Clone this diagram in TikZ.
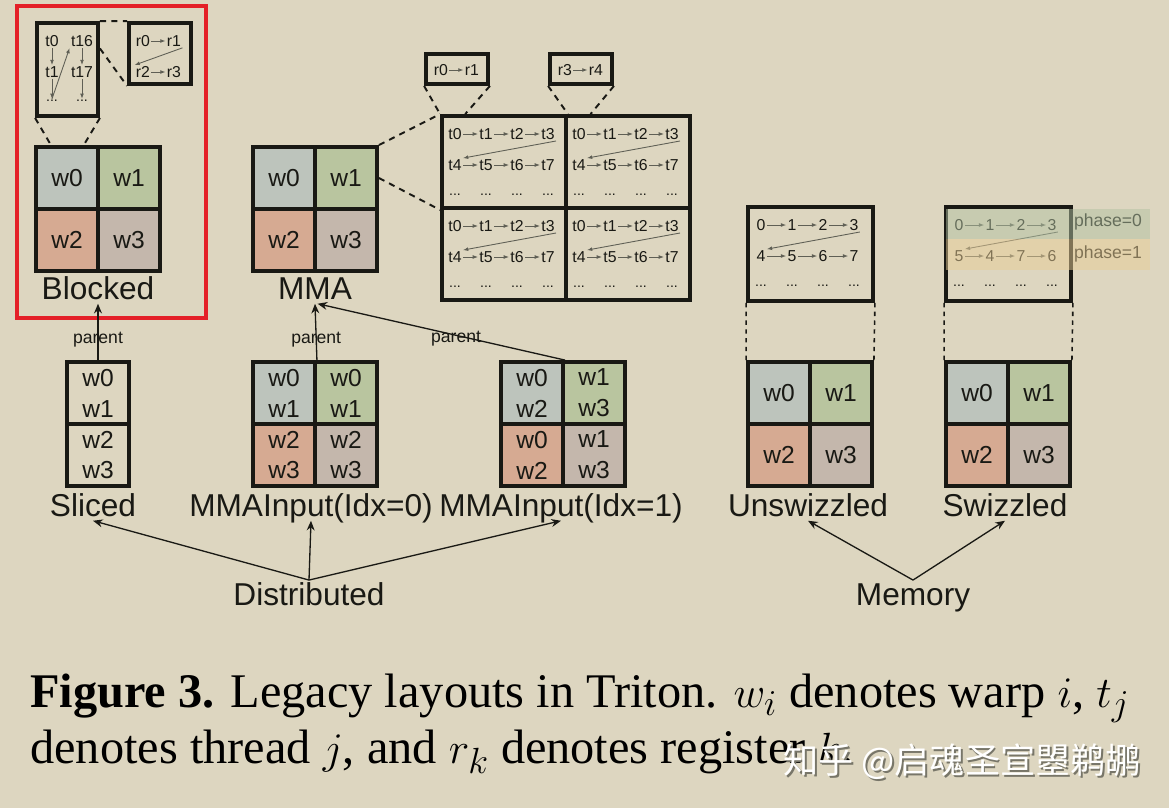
\documentclass[tikz,border=0pt]{standalone}
\usepackage{fontspec}
\setmainfont{Liberation Sans}
\newfontfamily\capfont{Liberation Serif}
\newfontfamily\cjkfont{Noto Sans CJK SC}
\usepackage{tikz}
\usetikzlibrary{arrows.meta,calc,positioning}
\definecolor{LyBg}{RGB}{221,214,192}
\definecolor{Ink}{RGB}{25,25,20}
\definecolor{TipGray}{RGB}{95,95,85}
\definecolor{FrameRed}{RGB}{228,32,40}
\definecolor{W0col}{RGB}{189,196,188}
\definecolor{W1col}{RGB}{185,197,159}
\definecolor{W2col}{RGB}{214,170,146}
\definecolor{W3col}{RGB}{196,183,172}
\definecolor{PhA}{RGB}{178,194,162}
\definecolor{PhB}{RGB}{232,205,150}
\definecolor{WmShade}{RGB}{120,118,105}
\tikzset{
  lycell/.style={draw=Ink, line width=2.2pt, minimum width=1.24cm, minimum height=1.24cm,
    inner sep=0pt, align=center, font=\fontsize{14}{17.6}\selectfont, text=Ink},
  lybox/.style={draw=Ink, line width=2.2pt, inner sep=0pt},
  lysmall/.style={font=\fontsize{9}{10}\selectfont, inner sep=0.6pt, text=Ink},
  lydots/.style={font=\fontsize{8}{9}\selectfont, inner sep=0.6pt, text=Ink},
  lytip/.style={-{Latex[length=3pt,width=2.2pt]}, line width=0.5pt, draw=TipGray},
  lyzoom/.style={line width=1.1pt, draw=Ink, dash pattern=on 3.5pt off 3pt},
  lythin/.style={line width=0.9pt, draw=Ink, dash pattern=on 2.5pt off 2.5pt},
  lylab/.style={font=\fontsize{18}{20}\selectfont, inner sep=1pt, text height=13pt,
    text depth=1.5pt, anchor=base, text=Ink},
  lyarr/.style={-{Stealth[length=5.5pt,width=4.5pt]}, line width=0.75pt, draw=Ink},
  lypar/.style={font=\fontsize{10}{11}\selectfont, inner sep=0pt, text=Ink},
  lycap/.style={font=\capfont\fontsize{27.5}{30}\selectfont, inner sep=0pt, anchor=base west},
  lywm/.style={font=\cjkfont\fontsize{20}{22}\selectfont, inner sep=0pt}
}
\newcommand{\LyGrid}[6]{%
  \begin{scope}[shift={#2}]
    \node[lycell,fill=W0col] (#1-a) at (31,31) {#3};
    \node[lycell,fill=W1col] (#1-b) at (93,31) {#4};
    \node[lycell,fill=W2col] (#1-c) at (31,93) {#5};
    \node[lycell,fill=W3col] (#1-d) at (93,93) {#6};
  \end{scope}}
\newcommand{\LyRows}[4]{%
  \begin{scope}[shift={#2}]
    \foreach \lab [count=\i] in {#3}
      \node[lysmall] (#1-p\i) at ({31*\i-18},18) {\lab};
    \foreach \lab [count=\i] in {#4}
      \node[lysmall] (#1-q\i) at ({31*\i-18},49) {\lab};
    \foreach \i in {1,...,4}
      \node[lydots] (#1-r\i) at ({31*\i-18},79) {...};
    \foreach \i/\j in {1/2,2/3,3/4}{
      \draw[lytip] (#1-p\i) -- (#1-p\j);
      \draw[lytip] (#1-q\i) -- (#1-q\j);}
    \draw[lytip] (#1-p4.south east) -- (#1-q1.north east);
  \end{scope}}

\begin{document}
\begin{tikzpicture}[x=0.02cm,y=-0.02cm]
  \useasboundingbox (0,0) rectangle (1169,808);
  \fill[LyBg] (0,0) rectangle (1169,808);

  \draw[FrameRed,line width=2.6pt] (17,6) rectangle (206,318);
  \LyGrid{b}{(36,147)}{w0}{w1}{w2}{w3}
  \node[lylab] (blk) at (98,299) {Blocked};
  \node[lybox,minimum width=1.22cm,minimum height=1.86cm] (bthr) at (67.5,69.5) {};
  \node[lysmall] (bt0) at (52,41) {t0};
  \node[lysmall] (bt16) at (82,41) {t16};
  \node[lysmall] (bt1) at (52,72) {t1};
  \node[lysmall] (bt17) at (82,72) {t17};
  \node[lydots] (bd1) at (52,101) {...};
  \node[lydots] (bd2) at (82,101) {...};
  \draw[lytip] (bt0) -- (bt1);
  \draw[lytip] (bt1) -- (bd1);
  \draw[lytip] (bt16) -- (bt17);
  \draw[lytip] (bt17) -- (bd2);
  \draw[lytip] (bd1.north) -- (bt16.south west);
  \node[lybox,minimum width=1.24cm,minimum height=1.22cm] (breg) at (160,53.5) {};
  \node[lysmall] (br0) at (143,41) {r0};
  \node[lysmall] (br1) at (174,41) {r1};
  \node[lysmall] (br2) at (143,72) {r2};
  \node[lysmall] (br3) at (174,72) {r3};
  \draw[lytip] (br0) -- (br1);
  \draw[lytip] (br1.south east) -- (br2.north west);
  \draw[lytip] (br2) -- (br3);
  \draw[lyzoom] (bthr.north east) -- (breg.north west);
  \draw[lyzoom] (bthr.33) -- (breg.south west);
  \draw[lyzoom] (bthr.south west) -- (b-a.116);
  \draw[lyzoom] (bthr.south east) -- (b-a.63);

  \LyGrid{m}{(253,147)}{w0}{w1}{w2}{w3}
  \node[lylab] (mma) at (315,299) {MMA};
  \node[lybox,minimum width=2.48cm,minimum height=1.84cm] (q1) at (504,162) {};
  \node[lybox,minimum width=2.48cm,minimum height=1.84cm] (q2) at (628,162) {};
  \node[lybox,minimum width=2.48cm,minimum height=1.84cm] (q3) at (504,254) {};
  \node[lybox,minimum width=2.48cm,minimum height=1.84cm] (q4) at (628,254) {};
  \LyRows{q1t}{(442,116)}{t0,t1,t2,t3}{t4,t5,t6,t7}
  \LyRows{q2t}{(566,116)}{t0,t1,t2,t3}{t4,t5,t6,t7}
  \LyRows{q3t}{(442,208)}{t0,t1,t2,t3}{t4,t5,t6,t7}
  \LyRows{q4t}{(566,208)}{t0,t1,t2,t3}{t4,t5,t6,t7}
  \node[lybox,minimum width=1.24cm,minimum height=0.6cm] (mr1) at (457,69) {};
  \node[lysmall] (mr1-a) at (441,70) {r0};
  \node[lysmall] (mr1-b) at (472,70) {r1};
  \draw[lytip] (mr1-a) -- (mr1-b);
  \node[lybox,minimum width=1.24cm,minimum height=0.6cm] (mr2) at (581,69) {};
  \node[lysmall] (mr2-a) at (565,70) {r3};
  \node[lysmall] (mr2-b) at (596,70) {r4};
  \draw[lytip] (mr2-a) -- (mr2-b);
  \draw[lyzoom] (m-b.north east) -- (q1.north west);
  \draw[lyzoom] (m-b.east) -- (q1.south west);
  \draw[lyzoom] (mr1.south west) -- (q1.north west);
  \draw[lyzoom] (mr1.south east) -- (q1.129);
  \draw[lyzoom] (mr2.south west) -- (q1.north east);
  \draw[lyzoom] (mr2.south east) -- (q2.128);

  \node[lycell] (sl-a) at (98,393) {w0\\w1};
  \node[lycell] (sl-b) at (98,455) {w2\\w3};
  \node[lylab] (sl-lab) at (93,516) {Sliced};
  \LyGrid{mi0}{(253,362)}{w0\\w1}{w0\\w1}{w2\\w3}{w2\\w3}
  \node[lylab] (mi0-lab) at (311,516) {MMAInput(Idx=0)};
  \LyGrid{mi1}{(501,362)}{w0\\w2}{w1\\w3}{w0\\w2}{w1\\w3}
  \node[lylab] (mi1-lab) at (561,516) {MMAInput(Idx=1)};
  \node[lylab] (dist) at (309,605) {Distributed};

  \draw[lyarr] (sl-a.north) -- node[lypar,pos=0.37] (par1) {parent} (sl-a.north |- blk.south);
  \draw[lyarr] (mi0-a.north east) -- node[lypar,pos=0.37] (par2) {parent} (mma.south);
  \draw[lyarr] (mi1-a.north east) -- node[lypar,pos=0.44,yshift=-2pt] (par3) {parent} (mma.-80);
  \draw[lyarr] (dist.north) -- (sl-lab.south);
  \draw[lyarr] (dist.north) -- (mi0-lab.south);
  \draw[lyarr] (dist.north) -- (mi1-lab.south);

  \node[lybox,minimum width=2.5cm,minimum height=1.88cm] (ubox) at (810.5,254) {};
  \LyRows{ur}{(748,207)}{0,1,2,3}{4,5,6,7}
  \LyGrid{ug}{(748,362)}{w0}{w1}{w2}{w3}
  \node[lylab] (us-lab) at (808,516) {Unswizzled};
  \draw[lythin] (ubox.south west) -- (ug-a.north west);
  \draw[lythin] (ubox.south east) -- (ug-b.north east);

  \node[lybox,minimum width=2.5cm,minimum height=1.88cm] (sbox) at (1008.5,254) {};
  \LyRows{sr}{(946,207)}{0,1,2,3}{5,4,7,6}
  \node[lypar] (ph0) at (1108,222) {phase=0};
  \node[lypar] (ph1) at (1108,254) {phase=1};
  \fill[PhA,opacity=0.5] (946,209) rectangle (1150,239);
  \fill[PhB,opacity=0.5] (946,239) rectangle (1150,270);
  \LyGrid{sg}{(946,362)}{w0}{w1}{w2}{w3}
  \node[lylab] (sw-lab) at (1005,516) {Swizzled};
  \draw[lythin] (sbox.south west) -- (sg-a.north west);
  \draw[lythin] (sbox.south east) -- (sg-b.north east);

  \node[lylab] (mem) at (913,605) {Memory};
  \draw[lyarr] (mem.north) -- (us-lab.south);
  \draw[lyarr] (mem.north) -- (sw-lab.south);

  \node[lycap] (cap1) at (30,707) {\textbf{Figure 3.} Legacy layouts in Triton. $w_i$ denotes warp $i$, $t_j$};
  \node[lycap] (cap2) at (30,763) {denotes thread $j$, and $r_k$ denotes register $k$.};
  \node[lywm,text=WmShade] (wmsh) at (964,764) {知乎 @启魂圣宣曌鹈鹕};
  \node[lywm,text=white] (wm) at (962,762) {知乎 @启魂圣宣曌鹈鹕};
\end{tikzpicture}
\end{document}
